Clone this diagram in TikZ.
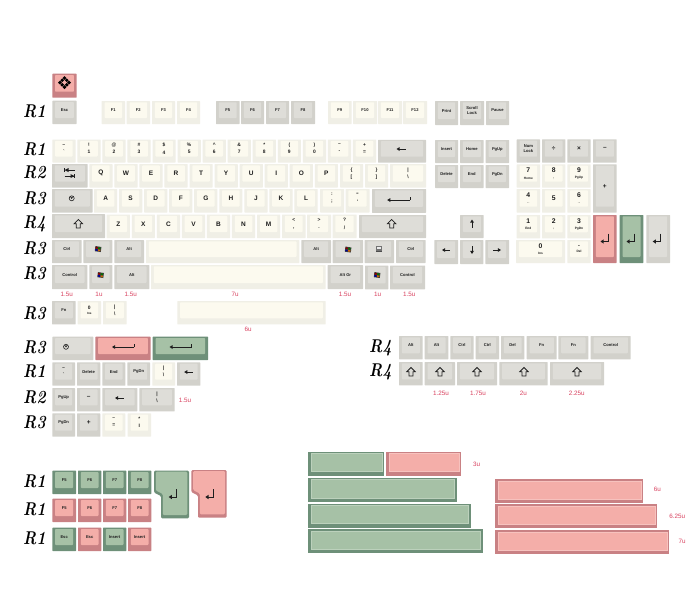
\documentclass[tikz,border=0pt]{standalone}
\usepackage{fontspec}
\newfontfamily\keyfont{Liberation Sans}
\newfontfamily\redfont{Liberation Sans}
\definecolor{ltside}{HTML}{F0EFE6}
\definecolor{lttop}{HTML}{FCFAEF}
\definecolor{grside}{HTML}{D2D1CB}
\definecolor{grtop}{HTML}{DEDDD8}
\definecolor{pkside}{HTML}{C98184}
\definecolor{pktop}{HTML}{F4AEA9}
\definecolor{gnside}{HTML}{6E9079}
\definecolor{gntop}{HTML}{A6C1A6}
\definecolor{ink}{HTML}{1E1E1E}
\definecolor{sizered}{HTML}{D9415F}
\newcount\kc
\tikzset{
  lgs/.style={font=\keyfont\bfseries\fontsize{4.1}{4.5}\selectfont,text=ink,inner sep=0,align=center},
  lgm/.style={font=\keyfont\bfseries\fontsize{6.5}{6.5}\selectfont,text=ink,inner sep=0,align=center},
  lgt/.style={font=\keyfont\bfseries\fontsize{4.9}{7.2}\selectfont,text=ink,inner sep=0,align=center},
  lgn/.style={font=\keyfont\bfseries\fontsize{6.8}{6.8}\selectfont,text=ink,inner sep=0,align=center},
  rowlab/.style={font=\bfseries\itshape\fontsize{18.5}{18.5}\selectfont,text=black,inner sep=0},
  sizelab/.style={font=\redfont\fontsize{6.3}{7}\selectfont,text=sizered,inner sep=0},
  ico/.style={line width=.8pt,draw=ink},
}
% key: [legend style]{class}{x1}{y1}{x2}{y2}{legend}
\newcommand{\K}[7][lgs]{%
  \fill[#2side,rounded corners=.5] (#3,#4) rectangle (#5,#6);
  \fill[#2top,rounded corners=.8] ({#3+2.8},{#4+1.3}) rectangle ({#5-2.8},{#6-6});
  \global\advance\kc by 1
  \node[#1] (k\the\kc) at ({(#3+#5)/2},{(#4+#6)/2-2.4}) {#7};%
}
% flat bar (large green / pink keys)
\newcommand{\B}[5]{%
  \fill[#1side] (#2,#3) rectangle (#4,#5);
  \fill[#1top,draw=#1top!75!white,line width=.6pt] ({#2+3.2},{#3+1.8}) rectangle ({#4-2},{#5-4});
}
\newcommand{\RL}[3]{\global\advance\kc by 1 \node[rowlab,anchor=west] (k\the\kc) at (#1,#2) {\scalebox{.84}[1]{R{\oldstylenums{#3}}}};}
\newcommand{\SL}[3]{\global\advance\kc by 1 \node[sizelab] (k\the\kc) at (#1,#2) {#3};}
\newcommand{\AL}[3]{% left arrow centre x,y, half length
  \draw[ico] ({#1-#3+2},#2) -- ({#1+#3},#2);
  \fill[ink] ({#1-#3},#2) -- ({#1-#3+3.2},{#2-2}) -- ({#1-#3+3.2},{#2+2}) -- cycle;}
\newcommand{\AR}[2]{%
  \draw[ico] ({#1-4},#2) -- ({#1+2},#2);
  \fill[ink] ({#1+4},#2) -- ({#1+.8},{#2-2}) -- ({#1+.8},{#2+2}) -- cycle;}
\newcommand{\AU}[2]{%
  \draw[ico] (#1,{#2-2}) -- (#1,{#2+4});
  \fill[ink] (#1,{#2-4}) -- ({#1-2},{#2-.8}) -- ({#1+2},{#2-.8}) -- cycle;}
\newcommand{\AD}[2]{%
  \draw[ico] (#1,{#2-4}) -- (#1,{#2+2});
  \fill[ink] (#1,{#2+4}) -- ({#1-2},{#2+.8}) -- ({#1+2},{#2+.8}) -- cycle;}
\newcommand{\EN}[3]{% long enter, centre, half length
  \AL{#1}{#2}{#3}
  \draw[ico] ({#1+#3},#2) -- ({#1+#3},{#2-3});}
\newcommand{\EV}[2]{% vertical enter
  \draw[ico] ({#1+4},{#2-8}) -- ({#1+4},#2) -- ({#1-2},#2);
  \fill[ink] ({#1-4},#2) -- ({#1-.8},{#2-2.2}) -- ({#1-.8},{#2+2.2}) -- cycle;}
\newcommand{\SH}[2]{% outlined shift arrow
  \draw[line width=.75pt,ink,line join=miter] (#1,{#2-4.5}) -- ({#1+4.2},{#2-.3}) -- ({#1+2},{#2-.3}) -- ({#1+2},{#2+4}) -- ({#1-2},{#2+4}) -- ({#1-2},{#2-.3}) -- ({#1-4.2},{#2-.3}) -- cycle;}
\newcommand{\LK}[2]{% lock icon
  \draw[line width=.6pt,ink] (#1,{#2+.8}) circle (2.5);
  \draw[line width=.6pt,ink] ({#1-1.5},{#2-1}) arc (180:0:1.5 and 1.6);
  \fill[ink] (#1,{#2+.8}) circle (.6);}
\newcommand{\WN}[2]{% windows icon
  \fill[black!75] ({#1-2.6},{#2-3}) -- ({#1+3.4},{#2-2}) -- ({#1+2.8},{#2+3}) -- ({#1-3.2},{#2+2.2}) -- cycle;
  \fill[red!55!black] ({#1-2.2},{#2-2.2}) -- ({#1-.2},{#2-1.9}) -- ({#1-.3},{#2-.2}) -- ({#1-2.4},{#2-.5}) -- cycle;
  \fill[green!45!black] ({#1+.3},{#2-1.8}) -- ({#1+2.6},{#2-1.4}) -- ({#1+2.4},{#2+.2}) -- ({#1+.2},{#2-.1}) -- cycle;
  \fill[blue!60!black] ({#1-2.5},{#2}) -- ({#1-.4},{#2+.3}) -- ({#1-.5},{#2+1.9}) -- ({#1-2.7},{#2+1.6}) -- cycle;
  \fill[orange!80!black] ({#1+.1},{#2+.4}) -- ({#1+2.3},{#2+.7}) -- ({#1+2.2},{#2+2.3}) -- ({#1},{#2+2}) -- cycle;}
\newcommand{\MN}[2]{% menu icon
  \fill[black!55] ({#1-3.2},{#2-3.5}) rectangle ({#1+3.2},{#2+2.5});
  \fill[white!92!black] ({#1-2.4},{#2-2.8}) rectangle ({#1+2.4},{#2-.8});
  \fill[black!70] ({#1-3.2},{#2+1}) rectangle ({#1+3.2},{#2+2.5});}
\newcommand{\TB}[2]{% tab arrows
  \draw[line width=.7pt,ink] ({#1-5},{#2-5}) -- ({#1-5},{#2-1});
  \draw[line width=.7pt,ink] ({#1-4},{#2-3}) -- ({#1+5},{#2-3});
  \fill[ink] ({#1-5},{#2-3}) -- ({#1-1},{#2-5}) -- ({#1-1},{#2-1}) -- cycle;
  \draw[line width=.7pt,ink] ({#1+5},{#2+1}) -- ({#1+5},{#2+5});
  \draw[line width=.7pt,ink] ({#1-5},{#2+3}) -- ({#1+4},{#2+3});
  \fill[ink] ({#1+5},{#2+3}) -- ({#1+1},{#2+1}) -- ({#1+1},{#2+5}) -- cycle;}
\newcommand{\NP}[2]{#1\\[-.5pt]{\fontsize{3.2}{3.6}\selectfont #2}}
\begin{document}
\begin{tikzpicture}[x=1pt,y=-1pt]
\useasboundingbox (0,0) rectangle (700,592);
\fill[white] (0,0) rectangle (700,592);
% ---- logo key
\K{pk}{52.3}{73.7}{76.7}{97.7}{}
\foreach \dx/\dy in {0/-4.6,-2.3/-2.3,2.3/-2.3,-4.6/0,4.6/0,-2.3/2.3,2.3/2.3,0/4.6}
  \fill[black] ({64.5+\dx-1.9},{82.5+\dy}) -- ({64.5+\dx},{82.5+\dy-1.9}) -- ({64.5+\dx+1.9},{82.5+\dy}) -- ({64.5+\dx},{82.5+\dy+1.9}) -- cycle;
% ---- row labels
\RL{23}{111.5}{1}
\RL{23}{149.5}{1}
\RL{23}{172.5}{2}
\RL{23}{198}{3}
\RL{23}{224}{4}
\RL{23}{248}{3}
\RL{23}{273.5}{3}
\RL{23}{313}{3}
\RL{23}{347}{3}
\RL{23}{371.5}{1}
\RL{23}{397}{2}
\RL{23}{422}{3}
\RL{23}{481.5}{1}
\RL{23}{509.5}{1}
\RL{23}{538}{1}
\RL{369}{348}{4}
\RL{369}{372}{4}
% ---- function row
\K{gr}{52.3}{100.7}{76.7}{124}{Esc}
\K{lt}{101.7}{101}{125}{124}{F1}
\K{lt}{126.7}{101}{150}{124}{F2}
\K{lt}{152}{101}{175}{124}{F3}
\K{lt}{177}{101}{200}{124}{F4}
\K{gr}{216}{101}{239.5}{124}{F5}
\K{gr}{241}{101}{264}{124}{F6}
\K{gr}{266}{101}{289}{124}{F7}
\K{gr}{291}{101}{315}{124}{F8}
\K{lt}{328}{101}{351.6}{124}{F9}
\K{lt}{353}{101}{377}{124}{F10}
\K{lt}{378}{101}{402}{124}{F11}
\K{lt}{403}{101}{427}{124}{F12}
\K{gr}{435}{101}{458}{125}{Print}
\K{gr}{460}{101}{484}{125}{Scroll\\Lock}
\K{gr}{486}{101}{509}{125}{Pause}
% ---- number row
\foreach \t [count=\i from 0] in {{\textasciitilde\\`},{!\\1},{@\\2},{\#\\3},{\$\\4},{\%\\5},{\textasciicircum\\6},{\&\\7},{*\\8},{(\\9},{)\\0},{–\\-},{+\\=}}{
  \pgfmathsetmacro\xa{52.3+25.05*\i}\pgfmathsetmacro\xb{\xa+23.2}
  \K[lgt]{lt}{\xa}{139.5}{\xb}{162.5}{\t}
}
\K{gr}{378}{139.8}{426}{162.7}{}
\AL{401}{149}{4.5}
% ---- QWERTY row
\K{gr}{52}{164}{87.7}{187.5}{}
\TB{69.5}{173}
\foreach \t [count=\i from 0] in {Q,W,E,R,T,Y,U,I,O,P}{
  \pgfmathsetmacro\xa{89.3+25.05*\i}\pgfmathsetmacro\xb{\xa+23.2}
  \K[lgm]{lt}{\xa}{164}{\xb}{187.5}{\t}
}
\K[lgt]{lt}{340}{164}{363}{187.5}{\{\\{}[}
\K[lgt]{lt}{365}{164}{388}{187.5}{\}\\{}]}
\K[lgt]{lt}{390}{164}{426}{187.5}{|\\\textbackslash}
% ---- home row
\K{gr}{52}{189}{92.7}{212.5}{}
\LK{71.7}{197.5}
\foreach \t [count=\i from 0] in {A,S,D,F,G,H,J,K,L}{
  \pgfmathsetmacro\xa{94+25.05*\i}\pgfmathsetmacro\xb{\xa+23.2}
  \K[lgm]{lt}{\xa}{189}{\xb}{212.5}{\t}
}
\K[lgt]{lt}{320}{189}{344}{212.5}{:\\;}
\K[lgt]{lt}{345.5}{189}{369.5}{212.5}{"\\'}
\K{gr}{372}{189}{426}{212.8}{}
\EN{398.7}{200}{11.5}
% ---- Z row
\K{gr}{52}{214}{105}{238}{}
\SH{78.3}{224}
\foreach \t [count=\i from 0] in {Z,X,C,V,B,N,M}{
  \pgfmathsetmacro\xa{106.7+25.05*\i}\pgfmathsetmacro\xb{\xa+23.2}
  \K[lgm]{lt}{\xa}{214.5}{\xb}{238}{\t}
}
\K[lgt]{lt}{282}{214.5}{305.5}{238}{<\\,}
\K[lgt]{lt}{307}{214.5}{331}{238}{>\\.}
\K[lgt]{lt}{332.5}{214.5}{356.5}{238}{?\\/}
\K{gr}{359}{215}{426}{238}{}
\SH{391.7}{224}
% ---- bottom row 1
\K{gr}{52}{240}{81.7}{263}{Ctrl}
\K{gr}{83.3}{240}{112.3}{263}{}
\WN{98}{249}
\K{gr}{114.3}{240}{144}{263}{Alt}
\K{lt}{146}{240}{299.3}{263}{}
\K{gr}{301.3}{240}{331}{263}{Alt}
\K{gr}{332.7}{240}{363}{263}{}
\WN{348}{249.5}
\K{gr}{364.5}{240}{394}{263}{}
\MN{379}{249.5}
\K{gr}{396}{240}{425.7}{263}{Ctrl}
% ---- bottom row 2
\K{gr}{52}{265}{87.3}{289}{Control}
\K{gr}{89.3}{265}{112.3}{289}{}
\WN{100.5}{275}
\K{gr}{114.3}{265}{149.3}{289}{Alt}
\K{lt}{151}{265}{325.7}{289}{}
\K{gr}{327.7}{265}{363}{289}{Alt Gr}
\K{gr}{365}{265.5}{388.3}{289.3}{}
\WN{377}{275}
\K{gr}{390}{265.5}{425}{289.3}{Control}
\SL{66.7}{294}{1.5u}
\SL{99}{294}{1u}
\SL{130.7}{294}{1.5u}
\SL{235}{294}{7u}
\SL{345}{294}{1.5u}
\SL{377.7}{294}{1u}
\SL{409.3}{294}{1.5u}
% ---- extra row
\K{gr}{52}{301}{75.7}{324.3}{Fn}
\K[lgt]{lt}{77.7}{301}{101}{324.3}{0\\[-1.4pt]{\fontsize{3}{3}\selectfont Ins}}
\K[lgt]{lt}{103}{301}{126.7}{324.3}{|\\\textbackslash}
\K{lt}{177.3}{301}{325.7}{324.3}{}
\SL{248}{329}{6u}
% ---- navigation
\K{gr}{435}{140}{458}{163}{Insert}
\K{gr}{460}{140}{483.7}{163}{Home}
\K{gr}{485.7}{140}{509}{163}{PgUp}
\K{gr}{435}{165}{458}{188}{Delete}
\K{gr}{460}{165}{483.7}{188}{End}
\K{gr}{485.7}{165}{509}{188}{PgDn}
\K{gr}{460}{215}{483.7}{238}{}
\AU{472}{223.5}
\K{gr}{434.3}{240}{458}{264}{}
\AL{446}{250}{4}
\K{gr}{460}{240}{483.3}{264}{}
\AD{472}{250}
\K{gr}{485.3}{240}{509}{264}{}
\AR{497}{250}
% ---- numpad
\K{gr}{516.7}{139.3}{540}{162.7}{Num\\Lock}
\K[lgm]{gr}{542}{139.3}{565.3}{162.7}{÷}
\K[lgm]{gr}{567.3}{139.3}{590.7}{162.7}{×}
\K[lgm]{gr}{593}{139.3}{616.7}{162.7}{–}
\K[lgn]{lt}{516.7}{164.3}{540}{187.7}{\NP{7}{Home}}
\K[lgn]{lt}{542}{164.3}{565.3}{187.7}{\NP{8}{↑}}
\K[lgn]{lt}{567.3}{164.3}{590.7}{187.7}{\NP{9}{PgUp}}
\K[lgm]{gr}{593}{164.3}{616.7}{212.7}{+}
\K[lgn]{lt}{516.7}{189}{540}{212.7}{\NP{4}{←}}
\K[lgn]{lt}{542}{189}{565.3}{212.7}{5}
\K[lgn]{lt}{567.3}{189}{590.7}{212.7}{\NP{6}{→}}
\K[lgn]{lt}{516.7}{215}{540}{238.3}{\NP{1}{End}}
\K[lgn]{lt}{542}{215}{565.3}{238.3}{\NP{2}{↓}}
\K[lgn]{lt}{567.3}{215}{590.7}{238.3}{\NP{3}{PgDn}}
\K[lgn]{lt}{516}{240}{565}{263}{\NP{0}{Ins}}
\K[lgn]{lt}{567.3}{240}{590.7}{263}{\NP{.}{Del}}
\K{pk}{593}{215}{616.7}{263}{}
\EV{604.5}{241.5}
\K{gn}{619.7}{215}{643.3}{263}{}
\EV{630.5}{241.5}
\K{gr}{646.3}{215}{670}{263}{}
\EV{656.7}{241.5}
% ---- left block
\K{gr}{52.3}{336.7}{93.3}{360}{}
\LK{66}{346}
\K{pk}{95.3}{336.7}{150.7}{360}{}
\EN{123}{347}{11}
\K{gn}{152.7}{336.7}{208}{360}{}
\EN{180.5}{347}{11}
\K[lgt]{gr}{52.3}{362.3}{75}{385.7}{\textasciitilde\\`}
\K{gr}{77}{362.3}{100.3}{385.7}{Delete}
\K{gr}{102.3}{362.3}{125.3}{385.7}{End}
\K{gr}{127.3}{362.3}{150}{385.7}{PgDn}
\K[lgt]{lt}{152.3}{362.3}{175}{385.7}{|\\\textbackslash}
\K{gr}{177}{362.3}{200.3}{385.7}{}
\AL{188.5}{372}{4.3}
\K{gr}{52.3}{388}{75}{411.3}{PgUp}
\K[lgm]{gr}{77}{388}{100.3}{411.3}{–}
\K{gr}{102.3}{388}{137.3}{411.3}{}
\AL{119.5}{398}{4.5}
\K[lgt]{gr}{139.3}{388}{174.7}{411.3}{|\\\textbackslash}
\SL{185}{400}{1.5u}
\K{gr}{52.3}{413.3}{75}{436.7}{PgDn}
\K[lgm]{gr}{77}{413.3}{100.3}{436.7}{+}
\K[lgt]{lt}{102.3}{413.3}{125.3}{436.7}{–\\=}
\K[lgt]{lt}{127.7}{413.3}{151}{436.7}{*\\I}
% ---- R4 block
\K{gr}{399}{336}{422.7}{359.3}{Alt}
\K{gr}{424.7}{336}{448.3}{359.3}{Alt}
\K{gr}{450.3}{336}{473.7}{359.3}{Ctrl}
\K{gr}{475.7}{336}{499}{359.3}{Ctrl}
\K{gr}{501}{336}{524.3}{359.3}{Del}
\K{gr}{526.7}{336}{556.7}{359.3}{Fn}
\K{gr}{558.3}{336}{588.3}{359.3}{Fn}
\K{gr}{590.7}{336}{630.7}{359.3}{Control}
\K{gr}{399}{362}{422.7}{385.3}{}
\SH{411}{372}
\K{gr}{424.7}{362}{455}{385.3}{}
\SH{440}{372}
\K{gr}{457}{362}{497}{385.3}{}
\SH{477}{372}
\K{gr}{499.3}{362}{547.7}{385.3}{}
\SH{524}{372}
\K{gr}{550}{362}{604}{385.3}{}
\SH{577}{372}
\SL{441}{393}{1.25u}
\SL{478}{393}{1.75u}
\SL{523.3}{393}{2u}
\SL{576.7}{393}{2.25u}
% ---- colour keys lower left
\K{gn}{52.3}{470.7}{76}{494}{F5}
\K{gn}{78}{470.7}{101.3}{494}{F6}
\K{gn}{103}{470.7}{126.3}{494}{F7}
\K{gn}{128}{470.7}{151.3}{494}{F8}
\K{pk}{52.3}{498.7}{76}{522}{F5}
\K{pk}{78}{498.7}{101.3}{522}{F6}
\K{pk}{103}{498.7}{126.3}{522}{F7}
\K{pk}{128}{498.7}{151.3}{522}{F8}
\K{gn}{52.3}{527.7}{76}{551}{Esc}
\K{pk}{78}{527.7}{101.3}{551}{Esc}
\K{gn}{103}{527.7}{126.3}{551}{Insert}
\K{pk}{128}{527.7}{151.3}{551}{Insert}
% ---- ISO enters
\fill[gnside,rounded corners=1.2] (154,470.7) -- (189,470.7) -- (189,518.3) -- (161,518.3) -- (161,496) -- (154,492.5) -- cycle;
\fill[gntop,rounded corners=1.2] (155.8,471.7) -- (187.3,471.7) -- (187.3,515) -- (162.8,515) -- (162.8,494) -- (155.8,490.5) -- cycle;
\EV{172.7}{497}
\fill[pkside,rounded corners=1.2] (191.3,470) -- (226.7,470) -- (226.7,517.7) -- (198,517.7) -- (198,495.5) -- (191.3,492) -- cycle;
\fill[pktop,rounded corners=1.2] (193.1,471) -- (225,471) -- (225,514.4) -- (199.8,514.4) -- (199.8,493.5) -- (193.1,490) -- cycle;
\EV{209.3}{497}
% ---- bars
\B{gn}{308.3}{451.7}{384}{475.7}
\B{pk}{386}{451.7}{461.3}{475.7}
\SL{476.7}{464}{3u}
\B{gn}{308.3}{477.7}{456.7}{502}
\B{gn}{308.3}{503.7}{470.7}{527.7}
\B{gn}{308.3}{529}{482.7}{553.3}
\B{pk}{495}{479}{643.3}{503}
\B{pk}{495}{504.3}{657}{528.3}
\B{pk}{495}{530}{669.3}{554}
\SL{657.3}{489.7}{6u}
\SL{677.3}{516.7}{6.25u}
\SL{682}{541.7}{7u}
\end{tikzpicture}
\end{document}
